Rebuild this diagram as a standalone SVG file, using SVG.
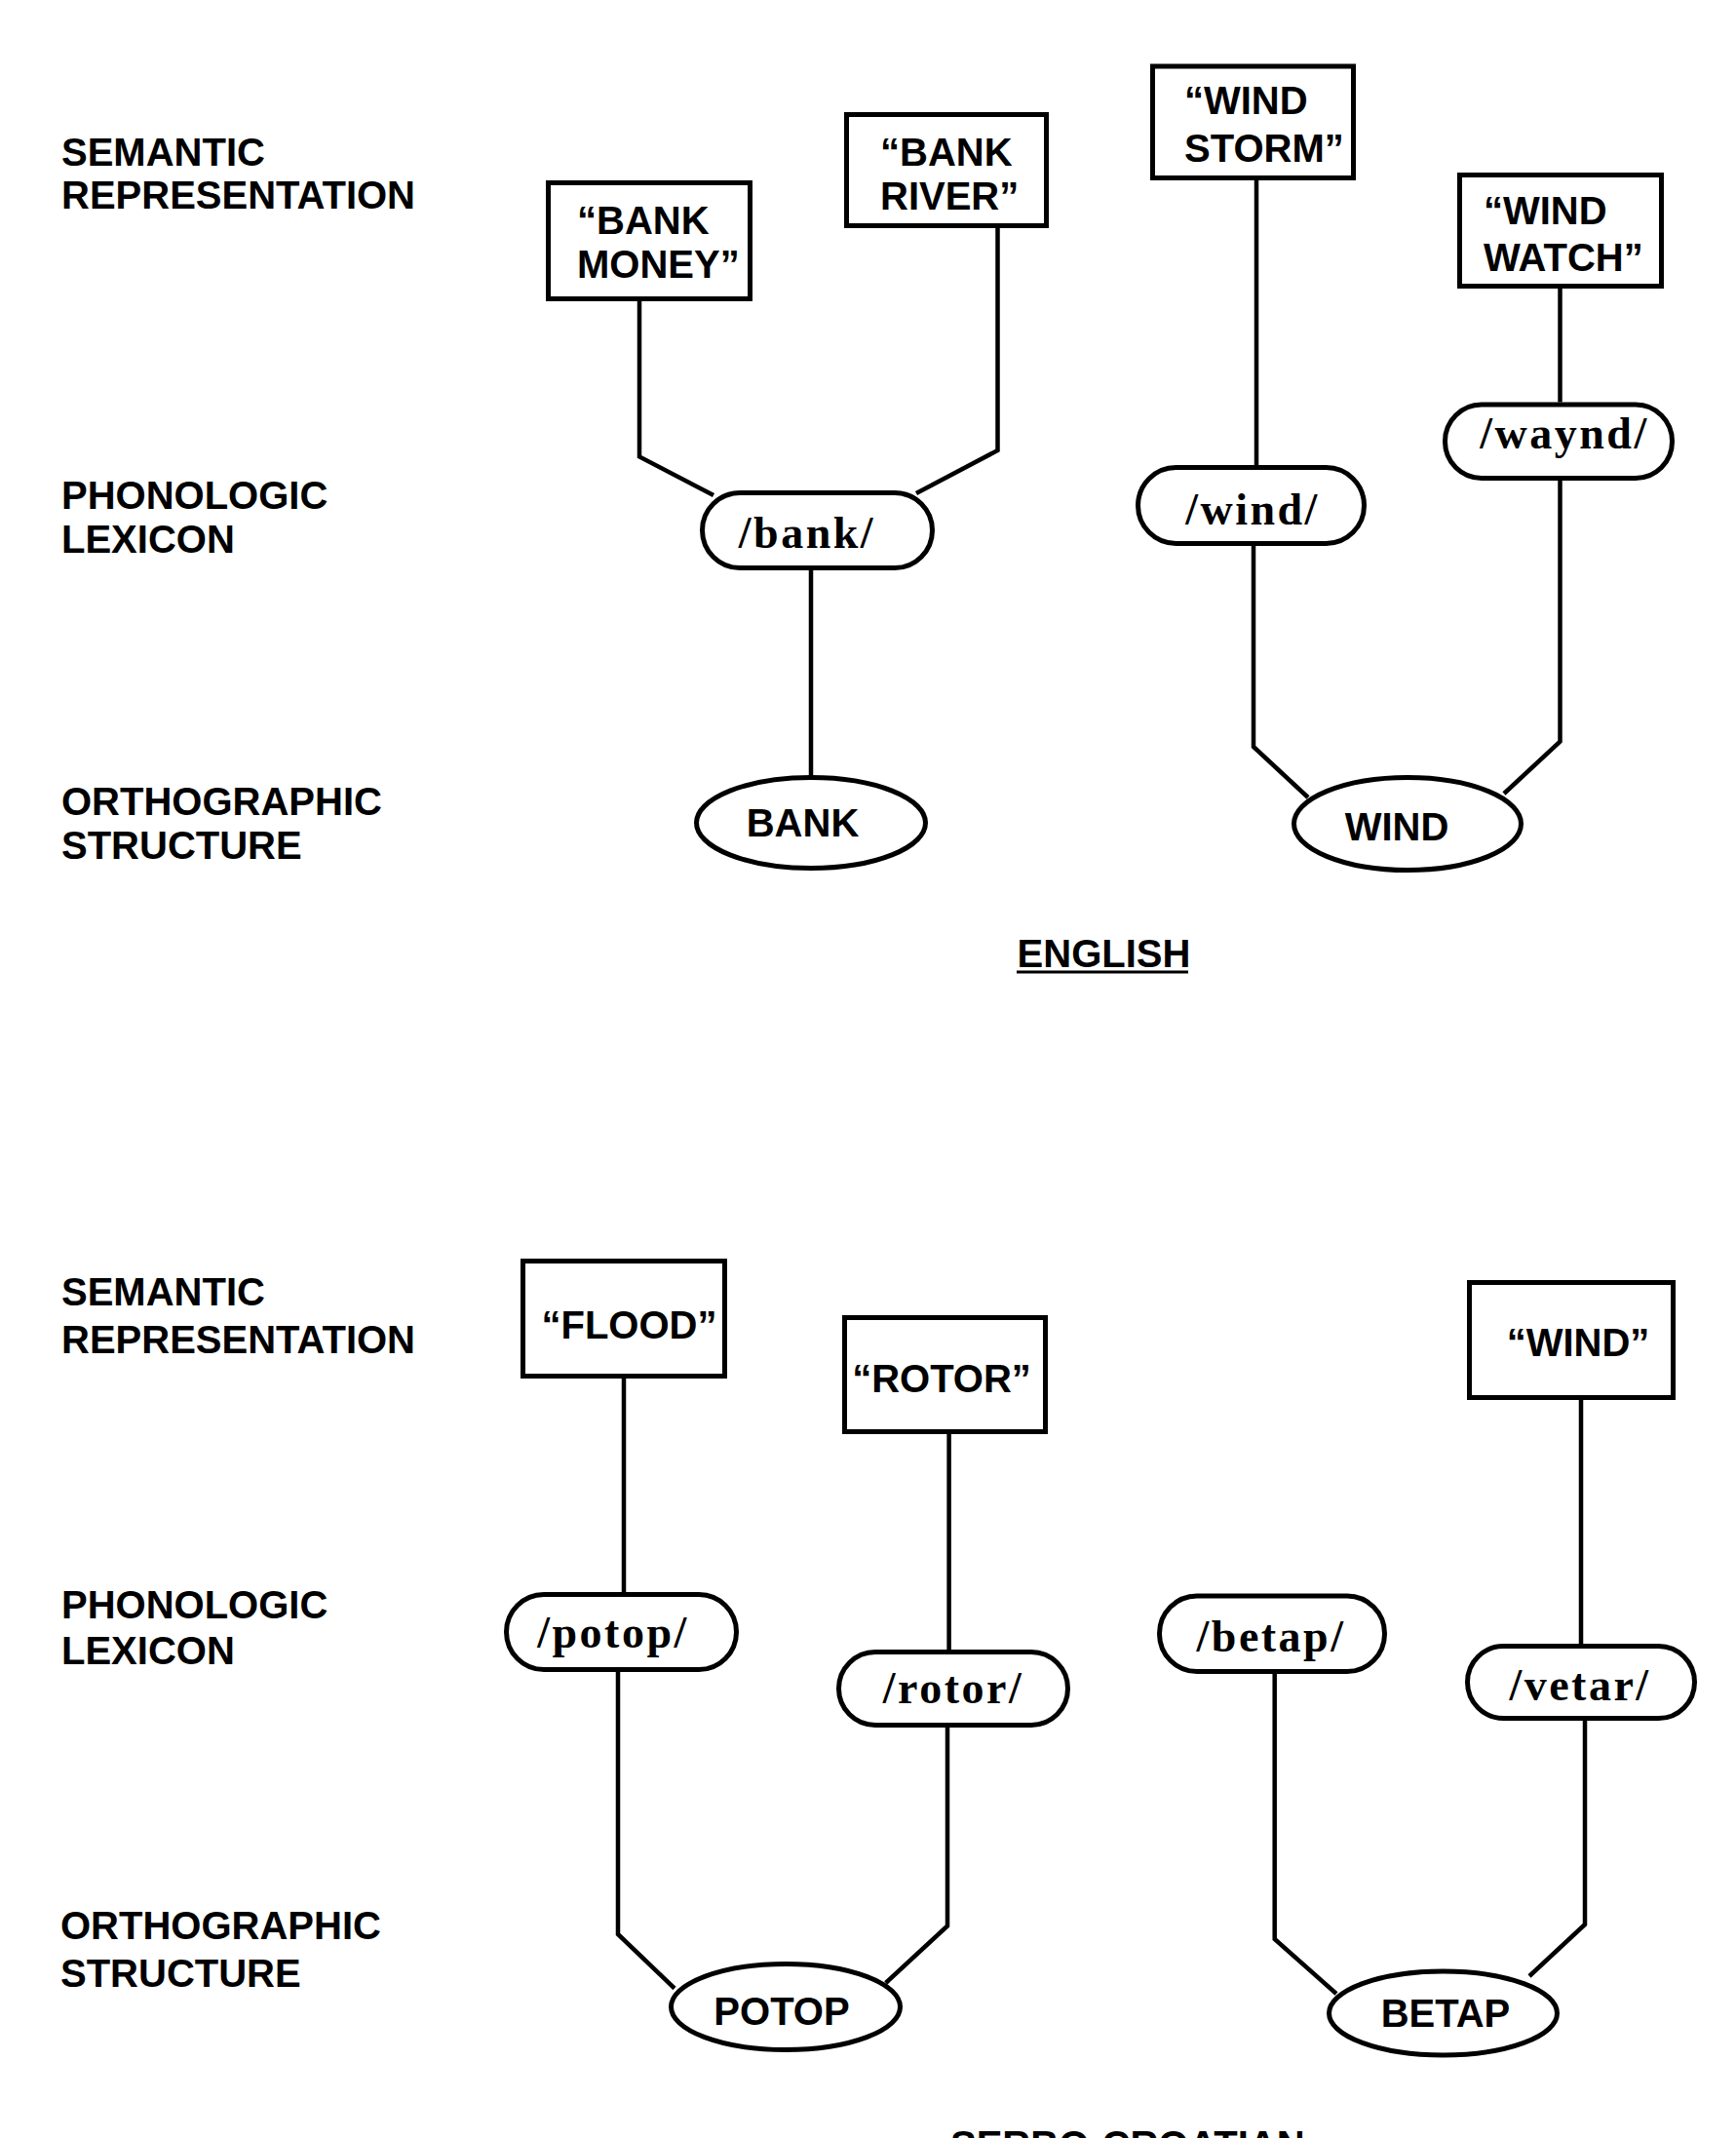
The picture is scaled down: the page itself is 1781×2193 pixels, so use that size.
<svg xmlns="http://www.w3.org/2000/svg" width="1781" height="2193" viewBox="0 0 1781 2193">
<style>
.lbl{font-family:"Liberation Sans",Arial,sans-serif;font-weight:bold;font-size:40px;fill:#000}
.ph{font-family:"Liberation Serif","Times New Roman",serif;font-weight:bold;font-size:46px;fill:#000;text-anchor:middle;letter-spacing:2.5px}
.mid{text-anchor:middle}
.box{fill:#fff;stroke:#000;stroke-width:5}
.conn{fill:none;stroke:#000;stroke-width:4.5;stroke-linejoin:miter}
</style>
<rect width="1781" height="2193" fill="#fff"/>
<g id="level-labels">
<text class="lbl" x="63" y="170">SEMANTIC</text>
<text class="lbl" x="63" y="214">REPRESENTATION</text>
<text class="lbl" x="63" y="522">PHONOLOGIC</text>
<text class="lbl" x="63" y="567">LEXICON</text>
<text class="lbl" x="63" y="836">ORTHOGRAPHIC</text>
<text class="lbl" x="63" y="881">STRUCTURE</text>
<text class="lbl" x="63" y="1339">SEMANTIC</text>
<text class="lbl" x="63" y="1388">REPRESENTATION</text>
<text class="lbl" x="63" y="1660">PHONOLOGIC</text>
<text class="lbl" x="63" y="1707">LEXICON</text>
<text class="lbl" x="62" y="1989">ORTHOGRAPHIC</text>
<text class="lbl" x="62" y="2038">STRUCTURE</text>
</g>
<g id="connectors">
<path class="conn" d="M656 309 V468.5 L732 508"/>
<path class="conn" d="M1023.5 234 V462 L940 506"/>
<path class="conn" d="M832 585 V797"/>
<path class="conn" d="M1289 185 V477"/>
<path class="conn" d="M1286 560 V766 L1342 818"/>
<path class="conn" d="M1600.5 296 V412.5"/>
<path class="conn" d="M1600.5 493 V760.6 L1543 814"/>
<path class="conn" d="M640 1414 V1633"/>
<path class="conn" d="M634 1715 V1984 L692 2039.5"/>
<path class="conn" d="M973.6 1471 V1692"/>
<path class="conn" d="M972 1772 V1975.5 L908.7 2034"/>
<path class="conn" d="M1307.7 1717 V1989 L1371 2045"/>
<path class="conn" d="M1622 1436 V1686"/>
<path class="conn" d="M1626 1765 V1974 L1569 2027"/>
</g>
<g id="sem-bank-money">
<rect class="box" x="562.5" y="187.5" width="207" height="119"/>
<text class="lbl" x="592" y="240">“BANK</text>
<text class="lbl" x="592" y="285">MONEY”</text>
</g>
<g id="sem-bank-river">
<rect class="box" x="868.5" y="117.5" width="205" height="114"/>
<text class="lbl" x="903" y="170">“BANK</text>
<text class="lbl" x="903" y="215">RIVER”</text>
</g>
<g id="sem-wind-storm">
<rect class="box" x="1182.5" y="68" width="206" height="114.5"/>
<text class="lbl" x="1215" y="117">“WIND</text>
<text class="lbl" x="1215" y="166">STORM”</text>
</g>
<g id="sem-wind-watch">
<rect class="box" x="1497.5" y="179.5" width="207" height="114"/>
<text class="lbl" x="1522" y="230">“WIND</text>
<text class="lbl" x="1522" y="278">WATCH”</text>
</g>
<g id="ph-bank">
<rect class="box" x="720.5" y="505.5" width="236" height="77" rx="38.5"/>
<text class="ph" x="828" y="562">/bank/</text>
</g>
<g id="ph-wind">
<rect class="box" x="1167.5" y="479.5" width="232" height="78" rx="39"/>
<text class="ph" x="1285" y="538">/wind/</text>
</g>
<g id="ph-waynd">
<rect class="box" x="1482.5" y="415" width="233" height="75.5" rx="37.5"/>
<text class="ph" x="1605" y="460">/waynd/</text>
</g>
<g id="orth-bank">
<ellipse class="box" cx="832" cy="844" rx="117.5" ry="46.5"/>
<text class="lbl mid" x="823.5" y="858">BANK</text>
</g>
<g id="orth-wind">
<ellipse class="box" cx="1444" cy="845" rx="116.5" ry="47.5"/>
<text class="lbl mid" x="1433" y="862">WIND</text>
</g>
<g id="title-english">
<text class="lbl" x="1043.6" y="992">ENGLISH</text>
<rect x="1043" y="995.5" width="176" height="3" fill="#000"/>
</g>
<g id="sem-flood">
<rect class="box" x="536.5" y="1293.5" width="207" height="118"/>
<text class="lbl mid" x="645.5" y="1373">“FLOOD”</text>
</g>
<g id="sem-rotor">
<rect class="box" x="866.5" y="1351.5" width="206" height="117"/>
<text class="lbl mid" x="966" y="1428">“ROTOR”</text>
</g>
<g id="sem-wind">
<rect class="box" x="1507.5" y="1315.5" width="209" height="118"/>
<text class="lbl mid" x="1619" y="1391">“WIND”</text>
</g>
<g id="ph-potop">
<rect class="box" x="519.5" y="1635.5" width="236" height="77" rx="38.5"/>
<text class="ph" x="629" y="1690">/potop/</text>
</g>
<g id="ph-rotor">
<rect class="box" x="860.5" y="1694.5" width="235" height="75" rx="37.5"/>
<text class="ph" x="978" y="1747">/rotor/</text>
</g>
<g id="ph-betap">
<rect class="box" x="1189.5" y="1637" width="231" height="77.5" rx="38.5"/>
<text class="ph" x="1304" y="1694">/betap/</text>
</g>
<g id="ph-vetar">
<rect class="box" x="1505.5" y="1688.5" width="233" height="74" rx="37"/>
<text class="ph" x="1621" y="1744">/vetar/</text>
</g>
<g id="orth-potop">
<ellipse class="box" cx="806" cy="2058.5" rx="117.5" ry="44"/>
<text class="lbl mid" x="802" y="2077">POTOP</text>
</g>
<g id="orth-betap">
<ellipse class="box" cx="1480.5" cy="2065" rx="117" ry="43"/>
<text class="lbl mid" x="1483" y="2079">BETAP</text>
</g>
<g id="title-serbo-croatian">
<text class="lbl" x="975" y="2214">SERBO-CROATIAN</text>
</g>
</svg>
